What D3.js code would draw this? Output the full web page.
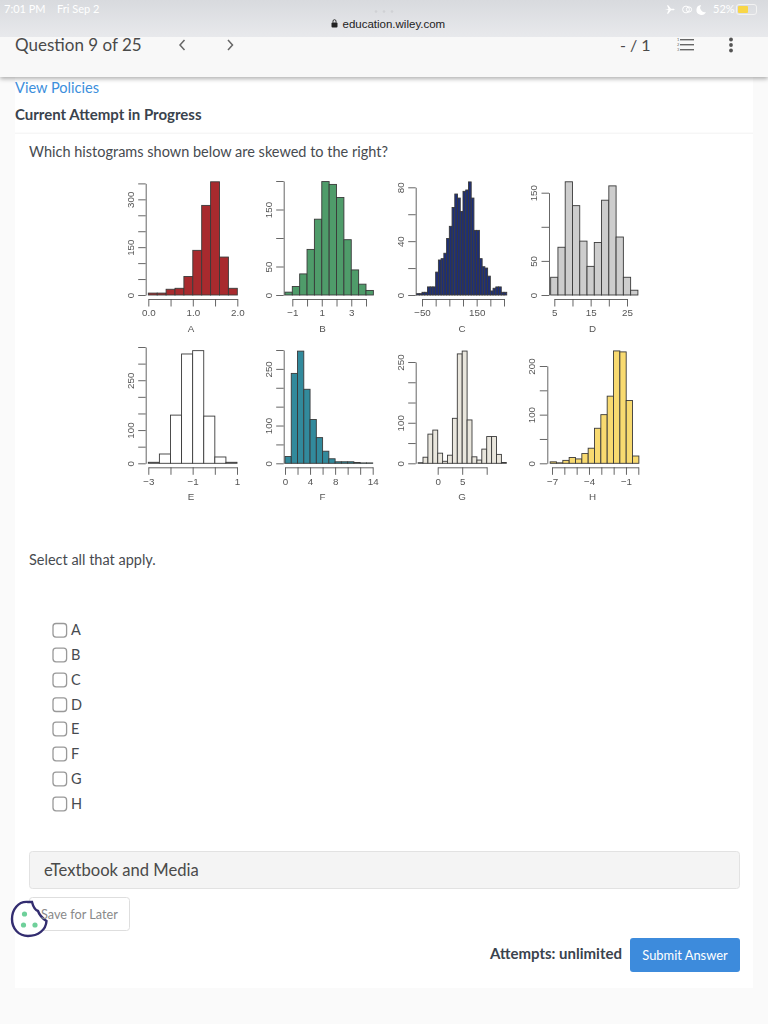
<!DOCTYPE html>
<html>
<head>
<meta charset="utf-8">
<script src="https://cdn.jsdelivr.net/npm/d3@7"></script>
<style>
html, body { margin: 0; padding: 0; background: #fafafa; }
svg { display: block; }
.ui { font-family: Lato, "Open Sans", sans-serif; }
.hist text { font-family: "Liberation Sans", Arial, sans-serif; fill: #555; }
</style>
</head>
<body>
<svg id="page" width="768" height="1024"></svg>
<script>
// bin counts
var countsA = [6, 6, 18, 21, 58, 140, 281, 355, 119, 21];
var countsB = [5, 15, 37, 80, 133, 199, 194, 171, 97, 44, 19, 8];
var countsC = [1, 1, 2, 2, 6, 6, 6, 17, 26, 27, 31, 42, 51, 65, 75, 72, 62, 77, 78, 84, 72, 48, 48, 27, 21, 20, 14, 3, 5, 6, 6, 2, 2];
var countsD = [26, 70, 166, 131, 79, 42, 77, 139, 160, 85, 26, 7];
var countsE = [3, 28, 145, 329, 339, 142, 19, 3];
var countsF = [18, 238, 297, 196, 116, 68, 32, 12, 4, 4, 4, 2, 1, 1];
var countsG = [1.5, 15, 72, 82, 25, 5, 20, 111, 270, 277, 107, 16, 8, 35, 66, 66, 22, 2];
var countsH = [3, 1, 6, 12, 9, 20, 31, 72, 100, 138, 231, 229, 129, 15];

// first bin edge and bin width
var binsA = [0, 0.2];
var binsB = [-1.5, 0.5];
var binsC = [-70, 10];
var binsD = [4, 2];
var binsE = [-3, 0.5];
var binsF = [0, 1];
var binsG = [-4, 1];
var binsH = [-7.15, 0.514];

var xTicksA = [0, 0.5, 1, 1.5, 2];
var xLabelsA = ['0.0', '', '1.0', '', '2.0'];
var xTicksB = [-1, 0, 1, 2, 3, 4];
var xLabelsB = ['\u22121', '', '1', '', '3', ''];
var xTicksC = [-50, 0, 50, 100, 150, 200, 250];
var xLabelsC = ['\u221250', '', '', '', '150', '', ''];
var xTicksD = [5, 10, 15, 20, 25];
var xLabelsD = ['5', '', '15', '', '25'];
var xTicksE = [-3, -2, -1, 0, 1];
var xLabelsE = ['\u22123', '', '\u22121', '', '1'];
var xTicksF = [0, 2, 4, 6, 8, 10, 12, 14];
var xLabelsF = ['0', '', '4', '', '8', '', '', '14'];
var xTicksG = [0, 5, 10];
var xLabelsG = ['0', '5', ''];
var xTicksH = [-7, -6, -5, -4, -3, -2, -1, 0];
var xLabelsH = ['\u22127', '', '', '\u22124', '', '', '\u22121', ''];

var yTicksA = [0, 50, 100, 150, 200, 250, 300, 350];
var yLabelsA = ['0', '', '', '150', '', '', '300', ''];
var yTicksB = [0, 50, 100, 150, 200];
var yLabelsB = ['0', '50', '', '150', ''];
var yTicksC = [0, 20, 40, 60, 80];
var yLabelsC = ['0', '', '40', '', '80'];
var yTicksD = [0, 50, 100, 150];
var yLabelsD = ['0', '50', '', '150'];
var yTicksE = [0, 50, 100, 150, 200, 250, 300, 350];
var yLabelsE = ['0', '', '100', '', '', '250', '', ''];
var yTicksF = [0, 50, 100, 150, 200, 250, 300];
var yLabelsF = ['0', '', '100', '', '', '250', ''];
var yTicksG = [0, 50, 100, 150, 200, 250];
var yLabelsG = ['0', '', '100', '', '', '250'];
var yTicksH = [0, 50, 100, 150, 200];
var yLabelsH = ['0', '', '100', '', '200'];

var letters = ['A', 'B', 'C', 'D', 'E', 'F', 'G', 'H'];

var svg = d3.select('#page');

function text(x, y, str, size, fill, weight, anchor) {
  return svg.append('text').attr('class', 'ui').attr('x', x).attr('y', y)
    .attr('font-size', size).attr('fill', fill)
    .attr('font-weight', weight || 400)
    .attr('text-anchor', anchor || 'start').text(str);
}

// page background and card
var defs = svg.append('defs');
var grad = defs.append('linearGradient').attr('id', 'top').attr('x1', 0).attr('x2', 0).attr('y1', 0).attr('y2', 1);
grad.append('stop').attr('offset', 0).attr('stop-color', '#d8dade');
grad.append('stop').attr('offset', 1).attr('stop-color', '#e8e9ec');
var shadow = defs.append('filter').attr('id', 'shadow').attr('x', '-5%').attr('y', '-20%').attr('width', '110%').attr('height', '160%');
shadow.append('feDropShadow').attr('dx', 0).attr('dy', 2).attr('stdDeviation', 2).attr('flood-color', '#000').attr('flood-opacity', 0.3);
defs.append('filter').attr('id', 'soft').append('feGaussianBlur').attr('stdDeviation', 0.35);

svg.append('rect').attr('width', 768).attr('height', 1024).attr('fill', '#fafafa');
svg.append('rect').attr('x', 15).attr('y', 70).attr('width', 738).attr('height', 918).attr('fill', '#fff');
svg.append('rect').attr('x', 15).attr('y', 132.6).attr('width', 738).attr('height', 1.2).attr('fill', '#f4f4f4');

// question header
svg.append('rect').attr('x', 0).attr('y', 37).attr('width', 768).attr('height', 40).attr('fill', '#f8f8f8').attr('filter', 'url(#shadow)');
svg.append('rect').attr('width', 768).attr('height', 37).attr('fill', 'url(#top)');

// status bar
text(4, 13, '7:01 PM', 11, '#fff');
text(57, 13, 'Fri Sep 2', 11, '#fff');
svg.selectAll('circle.menu').data([376, 384, 392]).enter().append('circle')
  .attr('cx', function(d) { return d; }).attr('cy', 11.5).attr('r', 1.3).attr('fill', '#d0d1d5');
svg.append('rect').attr('x', 331.5).attr('y', 22.5).attr('width', 6).attr('height', 5).attr('rx', 1).attr('fill', '#222');
svg.append('path').attr('d', 'M333 22.5v-1.3a1.5 1.5 0 0 1 3 0v1.3').attr('fill', 'none').attr('stroke', '#222').attr('stroke-width', 0.9);
text(342.5, 28, 'education.wiley.com', 11.5, '#222', 400).style('font-family', '"Liberation Sans", sans-serif');
svg.append('path').attr('d', 'M665 9.5l3.5-.6 -1.5-3.6h1.2l2.8 3.5 2.8-.1c1 0 1 1.6 0 1.6l-2.8-.1-2.8 3.5h-1.2l1.5-3.6-3.5-.6z').attr('fill', '#fff');
svg.append('circle').attr('cx', 686).attr('cy', 9.5).attr('r', 3.4).attr('fill', 'none').attr('stroke', '#fff');
svg.append('circle').attr('cx', 689).attr('cy', 9.5).attr('r', 2.6).attr('fill', 'none').attr('stroke', '#fff');
svg.append('path').attr('d', 'M701 5a5 5 0 1 0 5 7a4.6 4.6 0 0 1 -5 -7z').attr('fill', '#fff');
text(713, 13, '52%', 11, '#fff');
svg.append('rect').attr('x', 736.5).attr('y', 4.5).attr('width', 20).attr('height', 10).attr('rx', 2.5).attr('fill', 'none').attr('stroke', '#f2f2f2');
svg.append('rect').attr('x', 738).attr('y', 6).attr('width', 10).attr('height', 7).attr('rx', 1).attr('fill', '#f8d648');

text(15, 51, 'Question 9 of 25', 17, '#4a4a4a');
svg.append('path').attr('d', 'M184.5 40l-4.5 5 4.5 5').attr('fill', 'none').attr('stroke', '#666').attr('stroke-width', 1.5);
svg.append('path').attr('d', 'M228 40l4.5 5-4.5 5').attr('fill', 'none').attr('stroke', '#666').attr('stroke-width', 1.5);
text(620, 51, '- / 1', 16, '#4a4a4a');
svg.selectAll('rect.lines').data([40, 45, 50]).enter().append('rect')
  .attr('x', 680).attr('y', function(d) { return d - 1; }).attr('width', 14).attr('height', 1.4).attr('fill', '#666');
svg.selectAll('text.nums').data([1, 2, 3]).enter().append('text').attr('class', 'ui')
  .attr('x', 677).attr('y', function(d) { return 36.5 + d * 4.9; })
  .attr('font-size', 4).attr('fill', '#666').text(function(d) { return d; });
svg.selectAll('circle.dots').data([39.5, 45, 50.5]).enter().append('circle')
  .attr('cx', 731).attr('cy', function(d) { return d; }).attr('r', 1.9).attr('fill', '#555');

text(15, 93, 'View Policies', 14.6, '#3d8fdc');
text(15, 120, 'Current Attempt in Progress', 15, '#3a434d', 700);
text(29, 157, 'Which histograms shown below are skewed to the right?', 14.5, '#474b50');
text(29, 565, 'Select all that apply.', 14.5, '#474b50');

// histograms
function hist(o) {
  var g = svg.append('g').attr('class', 'hist').attr('filter', 'url(#soft)');
  var n = o.xTicks.length - 1;
  var x = d3.scaleLinear().domain([o.xTicks[0], o.xTicks[n]]).range(o.xPx);
  var y = d3.scaleLinear().domain([0, o.yTicks[o.yTicks.length - 1]]).range([o.base, o.yTop]);

  g.selectAll('rect').data(o.counts).enter().append('rect')
    .attr('x', function(d, i) { return x(o.bins[0] + i * o.bins[1]); })
    .attr('y', function(d) { return y(d); })
    .attr('width', function(d, i) { return x(o.bins[0] + (i + 1) * o.bins[1]) - x(o.bins[0] + i * o.bins[1]); })
    .attr('height', function(d) { return y(0) - y(d); })
    .attr('fill', o.color).attr('stroke', '#3a3a3a').attr('stroke-width', 0.9);

  var xAxis = d3.axisBottom(x).tickValues(o.xTicks).tickSize(7.5).tickSizeOuter(0).tickPadding(3)
    .tickFormat(function(d, i) { return o.xLabels[i]; });
  var gx = g.append('g').attr('transform', 'translate(0,' + (o.base + 4) + ')').call(xAxis);
  var yAxis = d3.axisLeft(y).tickValues(o.yTicks).tickSize(7.5).tickSizeOuter(0)
    .tickFormat(function(d, i) { return o.yLabels[i]; });
  var gy = g.append('g').attr('transform', 'translate(' + o.yAxisX + ',0)').call(yAxis);
  gy.selectAll('text').attr('transform', 'rotate(-90)').attr('x', 0).attr('y', -15)
    .attr('dy', '0.32em').attr('text-anchor', 'middle');
  [gx, gy].forEach(function(a) {
    a.attr('font-size', 9.8).attr('font-family', null);
    a.selectAll('path,line').attr('stroke', '#555').attr('stroke-width', 0.9);
  });

  g.append('text').attr('x', o.labelX).attr('y', o.base + 37).attr('text-anchor', 'middle')
    .attr('font-size', 9.8).text(o.letter);
}

var rowTop = 295;
var rowBottom = 463.3;

hist({ letter: letters[0], counts: countsA, bins: binsA, xTicks: xTicksA, xLabels: xLabelsA, yTicks: yTicksA, yLabels: yLabelsA,
  color: '#a82c2e', xPx: [148.3, 237.3], base: rowTop, yTop: 183.4, yAxisX: 145.7, labelX: 191 });
hist({ letter: letters[1], counts: countsB, bins: binsB, xTicks: xTicksB, xLabels: xLabelsB, yTicks: yTicksB, yLabels: yLabelsB,
  color: '#4f9c6b', xPx: [292.3, 366], base: rowTop, yTop: 181, yAxisX: 283.7, labelX: 322.6 });
hist({ letter: letters[2], counts: countsC, bins: binsC, xTicks: xTicksC, xLabels: xLabelsC, yTicks: yTicksC, yLabels: yLabelsC,
  color: '#1f2f78', xPx: [422, 504], base: rowTop, yTop: 187.3, yAxisX: 415.7, labelX: 462 });
hist({ letter: letters[3], counts: countsD, bins: binsD, xTicks: xTicksD, xLabels: xLabelsD, yTicks: yTicksD, yLabels: yLabelsD,
  color: '#cdcdcd', xPx: [554.3, 627], base: rowTop, yTop: 192.7, yAxisX: 549, labelX: 592.6 });
hist({ letter: letters[4], counts: countsE, bins: binsE, xTicks: xTicksE, xLabels: xLabelsE, yTicks: yTicksE, yLabels: yLabelsE,
  color: '#ffffff', xPx: [148.3, 237], base: rowBottom, yTop: 347, yAxisX: 145.7, labelX: 191 });
hist({ letter: letters[5], counts: countsF, bins: binsF, xTicks: xTicksF, xLabels: xLabelsF, yTicks: yTicksF, yLabels: yLabelsF,
  color: '#308a9c', xPx: [285, 372.7], base: rowBottom, yTop: 350, yAxisX: 283.7, labelX: 322.6 });
hist({ letter: letters[6], counts: countsG, bins: binsG, xTicks: xTicksG, xLabels: xLabelsG, yTicks: yTicksG, yLabels: yLabelsG,
  color: '#e9e6dd', xPx: [437.7, 486.7], base: rowBottom, yTop: 362, yAxisX: 415.7, labelX: 462 });
hist({ letter: letters[7], counts: countsH, bins: binsH, xTicks: xTicksH, xLabels: xLabelsH, yTicks: yTicksH, yLabels: yLabelsH,
  color: '#f8da70', xPx: [552, 638.3], base: rowBottom, yTop: 366, yAxisX: 547.3, labelX: 592.6 });

// answer options
var optionY = [630.3, 655, 680, 704.7, 729, 754, 779, 804];
letters.forEach(function(l, i) {
  svg.append('rect').attr('x', 53).attr('y', optionY[i] - 6.8).attr('width', 13.6).attr('height', 13.6).attr('rx', 3)
    .attr('fill', '#fff').attr('stroke', '#999').attr('stroke-width', 1.3);
  text(71, optionY[i] + 5, l, 14.5, '#474b50');
});

// footer
svg.append('rect').attr('x', 29.5).attr('y', 851.5).attr('width', 710).attr('height', 37).attr('rx', 3)
  .attr('fill', '#f4f4f4').attr('stroke', '#e2e2e2');
text(44, 876, 'eTextbook and Media', 16.6, '#4a4a4a');
svg.append('rect').attr('x', 29.5).attr('y', 897.5).attr('width', 100).attr('height', 33).attr('rx', 3)
  .attr('fill', '#fff').attr('stroke', '#dedede');
svg.append('path').attr('d', 'M28 902C18 901 12 910 12 919C12 929 19 936 28 936C38 936 46 930 46.5 921C42 918 39 914 38 911C35 910 33 906 32 902Z')
  .attr('fill', '#fff').attr('stroke', '#332d70').attr('stroke-width', 2.4);
svg.selectAll('circle.crumb').data([[24.5, 914], [23.5, 925], [35, 925]]).enter().append('circle')
  .attr('cx', function(d) { return d[0]; }).attr('cy', function(d) { return d[1]; }).attr('r', 2.6).attr('fill', '#6fd09a');
text(41, 919, 'Save for Later', 12.7, '#8a8a8a');
text(490, 959, 'Attempts: unlimited', 15, '#3a434d', 700);
svg.append('rect').attr('x', 630).attr('y', 938).attr('width', 110).attr('height', 34).attr('rx', 3).attr('fill', '#3d8bdc');
text(685, 960, 'Submit Answer', 12.9, '#fff', 400, 'middle');
</script>
</body>
</html>
